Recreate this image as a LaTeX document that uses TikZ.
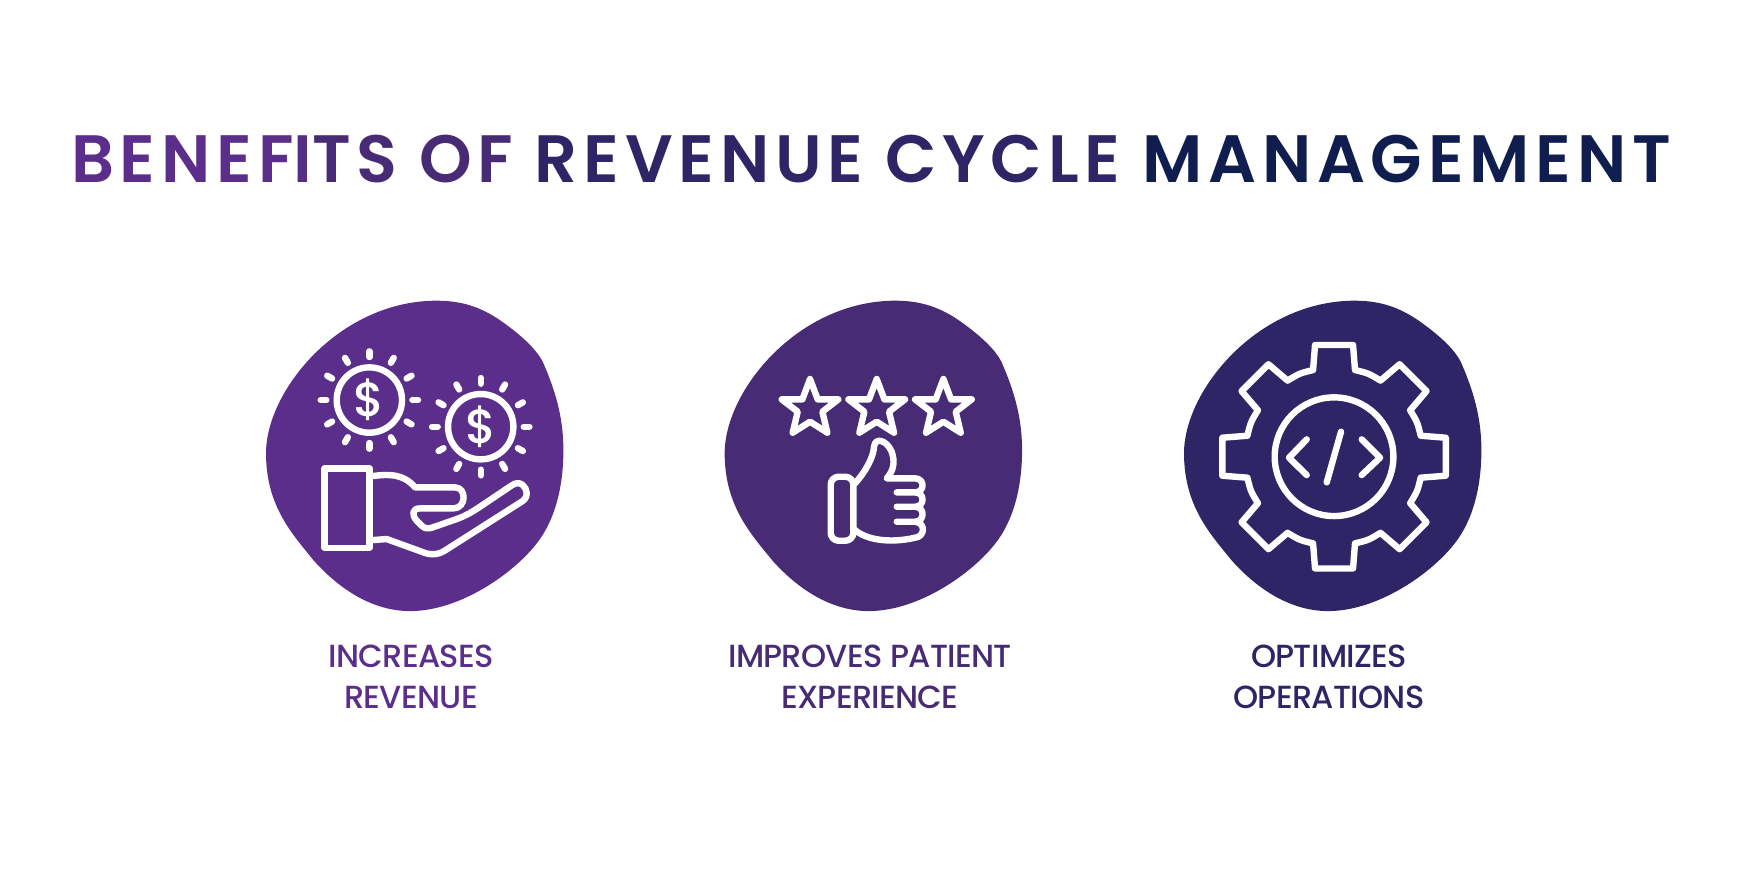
\documentclass[tikz,border=0pt]{standalone}
\usepackage{fontspec}
\newfontfamily\titlefont[UprightFont=* SemiBold,LetterSpace=8.7]{Poppins}
\newfontfamily\capfont[UprightFont=* Medium,LetterSpace=-2.2]{Poppins}
\newfontfamily\signfont[UprightFont=* Medium]{Poppins}
\definecolor{purpA}{HTML}{5B2E8B}
\definecolor{purpB}{HTML}{472B75}
\definecolor{purpC}{HTML}{2D2566}
\definecolor{navyD}{HTML}{0F1E4F}
\tikzset{
    caption/.style = {
        align=center,
        inner sep=0pt,
        font=\capfont\fontsize{16}{20.5}\selectfont
    },
    icon/.style = {
        draw=white,
        line width=3.2pt,
        line join=round,
        line cap=round
    },
    sign/.style = {
        text=white,
        inner sep=0pt,
        font=\signfont\fontsize{24}{24}\selectfont
    },
    blob/.pic = {
        \fill[pic actions] (590,62) .. controls (680,62) and (740,90) .. (800,135)
            .. controls (850,172) and (890,210) .. (908,245)
            .. controls (945,330) and (970,410) .. (970,510)
            .. controls (970,620) and (945,720) .. (890,790)
            .. controls (820,880) and (660,993) .. (510,993)
            .. controls (400,993) and (300,930) .. (220,840)
            .. controls (160,765) and (78,680) .. (78,520)
            .. controls (78,330) and (300,62) .. (590,62) -- cycle;
    },
    sun/.pic = {
        \draw[icon] (0,0) circle[radius=98];
        \foreach \a in {0,30,...,330}
            \draw[icon] (\a:129) -- (\a:146);
    },
    star/.pic = {
        \draw[icon] (300,297) -- (323,358) -- (385,358) -- (337,395) -- (352,458)
            -- (300,425) -- (248,458) -- (263,395) -- (215,358) -- (277,358) -- cycle;
    }
}
\begin{document}
\begin{tikzpicture}[x=0.5pt,y=-0.5pt]
    \useasboundingbox (0,0) rectangle (1740,869);
    \node (title) [inner sep=0pt, font=\titlefont\fontsize{33.5}{40}\selectfont] at (871,159) {%
        \textcolor{purpA}{BENEF}\textcolor{purpA!85!purpC}{I}\textcolor{purpB}{TS OF}
        \textcolor{purpC}{REVENUE CYCLE} \textcolor{navyD}{MANAGEMENT}};
    % money
    \begin{scope}[shift={(240,280)},x=0.1667pt,y=-0.1667pt]
        \pic[fill=purpA] {blob};
        \pic at (388,360) {sun};
        \pic at (722,440) {sun};
        \node (dollarA) [sign] at (388,360) {\$};
        \node (dollarB) [sign] at (722,440) {\$};
        \draw[icon] (254,565) rectangle (389,803);
        \draw[icon] (398,588) .. controls (445,582) and (490,580) .. (525,622) -- (645,622)
            .. controls (680,622) and (680,685) .. (640,685) -- (540,685)
            .. controls (515,685) and (515,705) .. (530,722) -- (545,737)
            .. controls (555,747) and (565,746) .. (578,742) -- (650,717)
            .. controls (680,706) and (700,693) .. (720,680) -- (815,616)
            .. controls (840,598) and (860,620) .. (860,640)
            .. controls (860,655) and (850,662) .. (840,668) -- (620,808)
            .. controls (595,826) and (570,826) .. (545,815) -- (440,777) -- (398,780);
    \end{scope}
    % thumb
    \begin{scope}[shift={(710,280)},x=0.1667pt,y=-0.1667pt]
        \pic[fill=purpB] at (-34,0) {blob};
        \foreach \s in {0,200,400}
            \pic at (\s,0) {star};
        \draw[icon, rounded corners=4pt] (362,590) rectangle (430,782);
        \draw[icon] (435,610) .. controls (470,570) and (490,530) .. (492,500)
            .. controls (495,470) and (530,480) .. (545,515)
            .. controls (555,545) and (552,570) .. (530,595) -- (615,595)
            .. controls (645,595) and (645,637) .. (615,637) -- (560,637)
            (615,637) .. controls (645,637) and (645,680) .. (615,680) -- (560,680)
            (615,680) .. controls (645,680) and (645,725) .. (615,725) -- (560,725)
            (615,725) .. controls (648,728) and (645,770) .. (615,773)
            .. controls (540,790) and (470,780) .. (435,750);
    \end{scope}
    % gear
    \begin{scope}[shift={(1170,280)},x=0.1667pt,y=-0.1667pt]
        \pic[fill=purpC] at (-36,0) {blob};
        \begin{scope}[shift={(492,530)}]
            \draw[icon] (0,0) circle[radius=178];
            \draw[icon] (-82,-52) -- (-135,3) -- (-82,55);
            \draw[icon] (83,-52) -- (138,3) -- (83,55);
            \draw[icon] (21,-75) -- (-22,77);
            \draw[icon] (-103.6:267.5)
                foreach \a in {-90,-45,...,225} {
                    -- ({\a-9.65}:340) -- ({\a+9.65}:340) -- ({\a+13.6}:267.5)
                    .. controls ({\a+22.5}:270.7) .. ({\a+31.4}:267.5)
                } -- cycle;
        \end{scope}
    \end{scope}
    \node (capA) [caption, text=purpA] at (411,677) {INCREASES\\REVENUE};
    \node (capB) [caption, text=purpB] at (870,677) {IMPROVES PATIENT\\EXPERIENCE};
    \node (capC) [caption, text=purpC] at (1329,677) {OPTIMIZES\\OPERATIONS};
\end{tikzpicture}
\end{document}
